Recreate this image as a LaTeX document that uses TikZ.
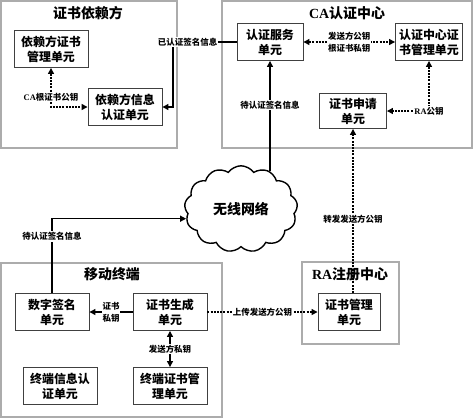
\documentclass[tikz,border=0pt]{standalone}
\usepackage{fontspec}
\setmainfont{Noto Sans CJK SC}
\newfontfamily\lat{Liberation Serif}
\usepackage{tikz}
\usetikzlibrary{arrows.meta,shapes.symbols}

\tikzset{
  group/.style={draw=gray!65, line width=1.3pt},
  grouptitle/.style={font=\fontsize{14}{16}\selectfont\bfseries},
  unit/.style={draw=gray!50!black, line width=0.9pt, fill=white, align=center,
    minimum width=74bp, minimum height=37bp, inner sep=1pt,
    font=\fontsize{12}{15}\selectfont\bfseries},
  lbl/.style={fill=white, inner sep=1pt, align=center,
    font=\fontsize{8.5}{12}\selectfont\bfseries},
  sline/.style={line width=1.3pt, arrows={-Triangle[length=6bp,width=6bp]}},
  dline/.style={line width=1.3pt, dash pattern=on 2bp off 1.2bp,
    arrows={-Triangle[length=6bp,width=6bp]}},
  both/.style={arrows={Triangle[length=6bp,width=6bp]-Triangle[length=6bp,width=6bp]}},
}

\begin{document}
\begin{tikzpicture}[x=1bp, y=-1bp]
  \useasboundingbox (0,0) rectangle (474,418);
  % Groups
  \draw[group] (1,1) rectangle (177,148);
  \node[grouptitle] (deptitle) at (88,13) {证书依赖方};
  \draw[group] (222,1) rectangle (472,148);
  \node[grouptitle] (catitle) at (347,13) {{\lat\bfseries CA}认证中心};
  \draw[group] (1,263) rectangle (222,417);
  \node[grouptitle] (mobtitle) at (112,274) {移动终端};
  \draw[group] (302,262) rectangle (399,344);
  \node[grouptitle] (ratitle) at (350,274) {{\lat\bfseries RA}注册中心};

  % Units
  \node[unit] (depcert) at (51,49) {依赖方证书\\管理单元};
  \node[unit] (depauth) at (125,107) {依赖方信息\\认证单元};
  \node[unit, minimum width=66bp] (casrv) at (270,42) {认证服务\\单元};
  \node[unit, minimum width=67bp] (cacert) at (429,42) {认证中心证\\书管理单元};
  \node[unit, minimum width=67bp, minimum height=35bp] (caapply) at (353,111) {证书申请\\单元};
  \node[unit] (sign) at (52,312) {数字签名\\单元};
  \node[unit] (gen) at (170,312) {证书生成\\单元};
  \node[unit] (tcert) at (170,386) {终端证书管\\理单元};
  \node[unit] (tauth) at (60,386) {终端信息认\\证单元};
  \node[unit, minimum width=62bp] (ramgr) at (349,312) {证书管理\\单元};

  % Network
  \node[cloud, draw, line width=1.4pt, cloud puffs=13, cloud puff arc=110,
    minimum width=113bp, minimum height=82bp, inner sep=0pt,
    font=\fontsize{14}{16}\selectfont\bfseries] (net) at (241,209) {无线网络};

  % Connectors
  \draw[dline, both] (depcert.south) |- node[lbl, pos=0.37] {{\lat\bfseries CA}根证书公钥} (depauth.west);
  \coordinate (bend) at (173,42);
  \draw[sline] (casrv.west) -- node[lbl, pos=0.77] {已认证签名信息} (bend) |- (depauth.east);
  \draw[dline, both] (casrv.east) -- node[lbl] {发送方公钥\\根证书私钥} (cacert.west);
  \draw[dline, both] (cacert.south) |- node[lbl] {{\lat\bfseries RA}公钥} (caapply.east);
  \draw[sline] (casrv.south |- net.54) -- node[lbl, pos=0.6] {待认证签名信息} (casrv.south);
  \draw[sline] (sign.north) |- node[lbl, pos=0.38] {待认证签名信息} (net.190);
  \draw[dline] (caapply.south |- ramgr.north) -- node[lbl, pos=0.45] {转发发送方公钥} (caapply.south);
  \draw[sline] (gen.west) -- node[lbl] {证书\\私钥} (sign.east);
  \draw[dline] (gen.east) -- node[lbl] {上传发送方公钥} (ramgr.west);
  \draw[sline, both] (gen.south) -- node[lbl] {发送方私钥} (tcert.north);
\end{tikzpicture}
\end{document}
